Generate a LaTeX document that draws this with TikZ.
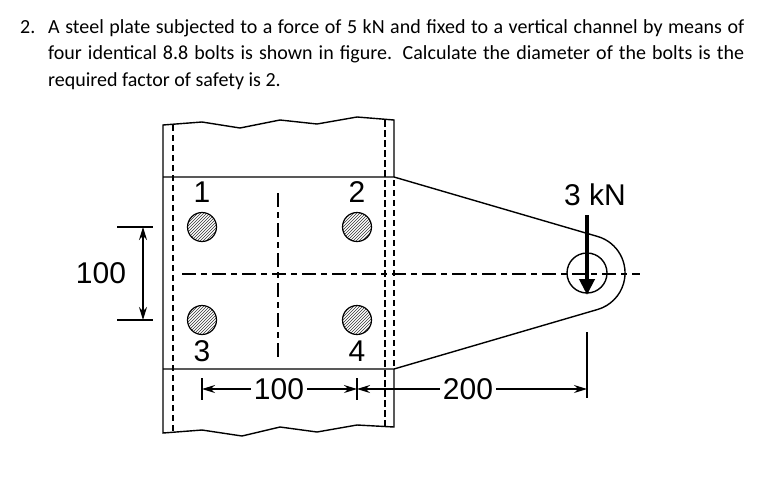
\documentclass[tikz,border=0pt]{standalone}
\usepackage{fontspec}
\setmainfont{Carlito}
\newfontfamily\arialf{Liberation Sans}
\usetikzlibrary{patterns,arrows.meta}
\begin{document}
\begin{tikzpicture}[x=1pt,y=-1pt,
  body/.style={line width=1.4pt},
  hid/.style={line width=1.4pt,dash pattern=on 6pt off 4pt},
  thickhid/.style={line width=2.6pt,dash pattern=on 7pt off 3pt},
  cl/.style={line width=1.4pt,dash pattern=on 14pt off 5pt on 6pt off 5pt},
  dim/.style={line width=1.4pt},
  lbl/.style={font=\arialf\fontsize{30}{30}\selectfont,inner sep=1pt},
  hdr/.style={font=\fontsize{20}{20}\selectfont,anchor=base west,inner sep=0pt},
  bolt/.style={circle,draw,line width=1.2pt,minimum size=29pt,inner sep=0pt,pattern=north east lines,pattern color=black!80}]
\useasboundingbox (0,0) rectangle (767,477);
% heading
\node[hdr] (n2) at (20,33) {2.};
\node[hdr] (l1) at (48,33) {\makebox[696pt][s]{A steel plate subjected to a force of 5 kN and fixed to a vertical channel by means of}};
\node[hdr] (l2) at (48,59) {\makebox[696pt][s]{four identical 8.8 bolts is shown in figure. Calculate the diameter of the bolts is the}};
\node[hdr] (l3) at (48,86) {required factor of safety is 2.};
% channel
\draw[body] (394,177) -- (394,120) -- (357,117) -- (317,124) -- (280,120) -- (240,128) -- (202,122) -- (163,125) -- (163,433) -- (202,430) -- (242,436) -- (280,427) -- (317,432) -- (357,425) -- (394,427) -- (394,369);
\draw[hid] (173,125) -- (173,433);
\draw[thickhid] (385,120) -- (385,427);
\draw[hid] (394,180) -- (394,366);
% plate
\coordinate (pc) at (587,273);
\draw[body] (163,177) -- (394,177) -- (597.7,236.5) arc[start angle=-73.7,end angle=73.7,radius=38] -- (394,369) -- (163,369);
\node[circle,draw,line width=1.4pt,minimum size=40pt,inner sep=0pt] (hole) at (pc) {};
% centre lines
\draw[cl] (182,274) -- (640,274);
\draw[cl] (278,193) -- (278,360);
% bolts
\node[bolt] (b1) at (202,227) {};
\node[bolt] (b2) at (357,227) {};
\node[bolt] (b3) at (202,320) {};
\node[bolt] (b4) at (357,320) {};
\node[lbl] at (202,192) {1};
\node[lbl] at (357,192) {2};
\node[lbl] at (202,351) {3};
\node[lbl] at (357,351) {4};
% load
\node[lbl] (load) at (595,195) {3 kN};
\coordinate (lt) at (587,215);
\draw[line width=4pt,-{Triangle[length=16pt,width=15pt]}] (lt) -- (587,295);
% left dimension
\coordinate (d1) at (143,227); \coordinate (d2) at (143,320);
\draw[dim] (117,227) -- (153,227);
\draw[dim] (117,320) -- (153,320);
\draw[dim,{Stealth[length=13pt,width=8pt]}-{Stealth[length=13pt,width=8pt]}] (d1) -- (d2);
\node[lbl] (t100a) at (101,273) {100};
% bottom dimension
\coordinate (e1) at (202,389); \coordinate (e2) at (357,389); \coordinate (e3) at (587,389);
\draw[dim] (202,378) -- (202,400);
\draw[dim] (357,378) -- (357,400);
\draw[dim] (587,332) -- (587,398);
\node[lbl,fill=white,inner sep=3pt] (t100b) at (279,389) {100};
\node[lbl,fill=white,inner sep=3pt] (t200) at (468,389) {200};
\draw[dim,-{Stealth[length=13pt,width=8pt]}] (t100b.west) -- (e1);
\draw[dim,-{Stealth[length=13pt,width=8pt]}] (t100b.east) -- (e2);
\draw[dim,-{Stealth[length=13pt,width=8pt]}] (t200.west) -- (e2);
\draw[dim,-{Stealth[length=13pt,width=8pt]}] (t200.east) -- (e3);
\end{tikzpicture}
\end{document}
